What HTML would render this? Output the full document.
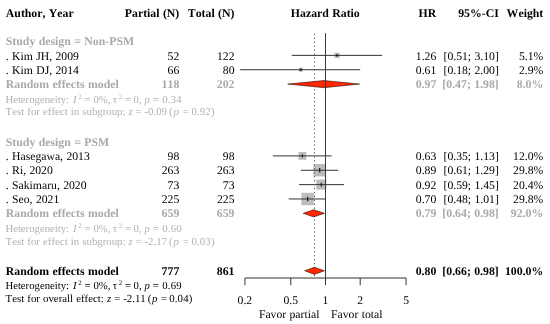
<!DOCTYPE html>
<html><head><meta charset="utf-8"><title>Forest plot</title>
<style>html,body{margin:0;padding:0;background:#fff}svg{display:block}text{word-spacing:0.45px;font-kerning:none;text-rendering:geometricPrecision;font-family:"Liberation Serif","Times New Roman",serif;font-size:11.7px;fill:#000}.b{font-weight:bold;font-size:11.8px}.g{fill:#a9a9a9}.g2{fill:#b2b2b2}.i{font-style:italic}.e{text-anchor:end}.m{text-anchor:middle}</style></head>
<body>
<svg width="550" height="324" viewBox="0 0 550 324">
<rect width="550" height="324" fill="#fff"/>
<g>
<text x="5.8" y="16.7" class="b">Author, Year</text>
<text x="179.3" y="16.7" class="b e">Partial (N)</text>
<text x="234.5" y="16.7" class="b e">Total (N)</text>
<text x="325.3" y="16.7" class="b m">Hazard Ratio</text>
<text x="436.3" y="16.7" class="b e">HR</text>
<text x="498.8" y="16.7" class="b e">95%-CI</text>
<text x="543.3" y="16.7" class="b e">Weight</text>
<text x="5.8" y="45.2" class="b g">Study design = Non-PSM</text>
<text x="5.8" y="59.6">. Kim JH, 2009</text>
<text x="179.3" y="59.6" class="e">52</text>
<text x="234.5" y="59.6" class="e">122</text>
<text x="436.3" y="59.6" class="e">1.26</text>
<text x="498.8" y="59.6" class="e">[0.51; 3.10]</text>
<text x="543.3" y="59.6" class="e">5.1%</text>
<text x="5.8" y="73.9">. Kim DJ, 2014</text>
<text x="179.3" y="73.9" class="e">66</text>
<text x="234.5" y="73.9" class="e">80</text>
<text x="436.3" y="73.9" class="e">0.61</text>
<text x="498.8" y="73.9" class="e">[0.18; 2.00]</text>
<text x="543.3" y="73.9" class="e">2.9%</text>
<text x="5.8" y="88.3" class="b g">Random effects model</text>
<text x="179.3" y="88.3" class="b g e">118</text>
<text x="234.5" y="88.3" class="b g e">202</text>
<text x="436.3" y="88.3" class="b g e">0.97</text>
<text x="498.8" y="88.3" class="b g e">[0.47; 1.98]</text>
<text x="543.3" y="88.3" class="b g e">8.0%</text>
<text y="102.7" style="font-size:10.73px" class="g2"><tspan x="5.4">Heterogeneity: </tspan><tspan x="73.0" class="i">I</tspan><tspan x="78.3" dy="-4.2" style="font-size:6.9px">2 </tspan><tspan x="84.4" dy="4.2">= </tspan><tspan x="93.4">0%, </tspan><tspan x="112.7">τ</tspan><tspan x="118.8" dy="-4.2" style="font-size:6.9px">2 </tspan><tspan x="125.0" dy="4.2">= </tspan><tspan x="133.6">0, </tspan><tspan x="144.5" class="i">p </tspan><tspan x="152.8">= </tspan><tspan x="162.3" style="letter-spacing:0.15px">0.34</tspan></text>
<text y="115.2" style="font-size:10.8px" class="g2"><tspan x="5.6">Test for effect in subgroup: </tspan><tspan x="128.4" class="i">z </tspan><tspan x="135.6">= </tspan><tspan x="144.5">-0.09 </tspan><tspan x="169.1">(</tspan><tspan x="173.6" class="i">p </tspan><tspan x="183.0">= </tspan><tspan x="191.4" style="letter-spacing:0.15px">0.92)</tspan></text>
<text x="5.8" y="145.7" class="b g">Study design = PSM</text>
<text x="5.8" y="160.1">. Hasegawa, 2013</text>
<text x="179.3" y="160.1" class="e">98</text>
<text x="234.5" y="160.1" class="e">98</text>
<text x="436.3" y="160.1" class="e">0.63</text>
<text x="498.8" y="160.1" class="e">[0.35; 1.13]</text>
<text x="543.3" y="160.1" class="e">12.0%</text>
<text x="5.8" y="174.0">. Ri, 2020</text>
<text x="179.3" y="174.0" class="e">263</text>
<text x="234.5" y="174.0" class="e">263</text>
<text x="436.3" y="174.0" class="e">0.89</text>
<text x="498.8" y="174.0" class="e">[0.61; 1.29]</text>
<text x="543.3" y="174.0" class="e">29.8%</text>
<text x="5.8" y="188.8">. Sakimaru, 2020</text>
<text x="179.3" y="188.8" class="e">73</text>
<text x="234.5" y="188.8" class="e">73</text>
<text x="436.3" y="188.8" class="e">0.92</text>
<text x="498.8" y="188.8" class="e">[0.59; 1.45]</text>
<text x="543.3" y="188.8" class="e">20.4%</text>
<text x="5.8" y="203.2">. Seo, 2021</text>
<text x="179.3" y="203.2" class="e">225</text>
<text x="234.5" y="203.2" class="e">225</text>
<text x="436.3" y="203.2" class="e">0.70</text>
<text x="498.8" y="203.2" class="e">[0.48; 1.01]</text>
<text x="543.3" y="203.2" class="e">29.8%</text>
<text x="5.8" y="217.0" class="b g">Random effects model</text>
<text x="179.3" y="217.0" class="b g e">659</text>
<text x="234.5" y="217.0" class="b g e">659</text>
<text x="436.3" y="217.0" class="b g e">0.79</text>
<text x="498.8" y="217.0" class="b g e">[0.64; 0.98]</text>
<text x="543.3" y="217.0" class="b g e">92.0%</text>
<text y="231.9" style="font-size:10.73px" class="g2"><tspan x="5.4">Heterogeneity: </tspan><tspan x="73.0" class="i">I</tspan><tspan x="78.3" dy="-4.2" style="font-size:6.9px">2 </tspan><tspan x="84.4" dy="4.2">= </tspan><tspan x="93.4">0%, </tspan><tspan x="112.7">τ</tspan><tspan x="118.8" dy="-4.2" style="font-size:6.9px">2 </tspan><tspan x="125.0" dy="4.2">= </tspan><tspan x="133.6">0, </tspan><tspan x="144.5" class="i">p </tspan><tspan x="152.8">= </tspan><tspan x="162.3" style="letter-spacing:0.15px">0.60</tspan></text>
<text y="244.5" style="font-size:10.8px" class="g2"><tspan x="5.6">Test for effect in subgroup: </tspan><tspan x="128.4" class="i">z </tspan><tspan x="135.6">= </tspan><tspan x="144.5">-2.17 </tspan><tspan x="169.1">(</tspan><tspan x="173.6" class="i">p </tspan><tspan x="183.0">= </tspan><tspan x="191.4" style="letter-spacing:0.15px">0.03)</tspan></text>
<text x="5.8" y="275.0" class="b">Random effects model</text>
<text x="179.3" y="275.0" class="b e">777</text>
<text x="234.5" y="275.0" class="b e">861</text>
<text x="436.3" y="275.0" class="b e">0.80</text>
<text x="498.8" y="275.0" class="b e">[0.66; 0.98]</text>
<text x="543.3" y="275.0" class="b e">100.0%</text>
<text y="289.3" style="font-size:10.73px" class=""><tspan x="5.4">Heterogeneity: </tspan><tspan x="73.0" class="i">I</tspan><tspan x="78.3" dy="-4.2" style="font-size:6.9px">2 </tspan><tspan x="84.4" dy="4.2">= </tspan><tspan x="93.4">0%, </tspan><tspan x="112.7">τ</tspan><tspan x="118.8" dy="-4.2" style="font-size:6.9px">2 </tspan><tspan x="125.0" dy="4.2">= </tspan><tspan x="133.6">0, </tspan><tspan x="144.5" class="i">p </tspan><tspan x="152.8">= </tspan><tspan x="162.3" style="letter-spacing:0.15px">0.69</tspan></text>
<text y="301.9" style="font-size:10.8px" class=""><tspan x="5.6">Test for overall effect: </tspan><tspan x="107.1" class="i">z </tspan><tspan x="114.3">= </tspan><tspan x="123.2">-2.11 </tspan><tspan x="147.8">(</tspan><tspan x="152.0" class="i">p </tspan><tspan x="160.9">= </tspan><tspan x="169.2" style="letter-spacing:0.15px">0.04)</tspan></text>
</g>
<rect x="334.47" y="52.78" width="5.20" height="5.20" fill="#bcbcbc"/>
<line x1="291.80" y1="55.38" x2="382.13" y2="55.38" stroke="#333" stroke-width="1"/>
<line x1="337.07" y1="54.18" x2="337.07" y2="56.58" stroke="#1c1c1c" stroke-width="1.70"/>
<rect x="298.76" y="67.74" width="4.00" height="4.00" fill="#bcbcbc"/>
<line x1="240.20" y1="69.74" x2="360.19" y2="69.74" stroke="#333" stroke-width="1"/>
<line x1="300.76" y1="68.54" x2="300.76" y2="70.94" stroke="#1c1c1c" stroke-width="1.70"/>
<rect x="298.48" y="152.00" width="7.80" height="7.80" fill="#bcbcbc"/>
<line x1="272.96" y1="155.90" x2="331.62" y2="155.90" stroke="#333" stroke-width="1"/>
<line x1="302.38" y1="154.50" x2="302.38" y2="157.30" stroke="#1c1c1c" stroke-width="1.25"/>
<rect x="313.47" y="164.06" width="12.40" height="12.40" fill="#bcbcbc"/>
<line x1="300.76" y1="170.26" x2="338.24" y2="170.26" stroke="#333" stroke-width="1"/>
<line x1="319.67" y1="168.03" x2="319.67" y2="172.49" stroke="#1c1c1c" stroke-width="1.25"/>
<rect x="316.28" y="179.57" width="10.10" height="10.10" fill="#bcbcbc"/>
<line x1="299.09" y1="184.62" x2="344.10" y2="184.62" stroke="#333" stroke-width="1"/>
<line x1="321.33" y1="182.80" x2="321.33" y2="186.44" stroke="#1c1c1c" stroke-width="1.25"/>
<rect x="301.45" y="192.78" width="12.40" height="12.40" fill="#bcbcbc"/>
<line x1="288.76" y1="198.98" x2="326.00" y2="198.98" stroke="#333" stroke-width="1"/>
<line x1="307.65" y1="196.75" x2="307.65" y2="201.21" stroke="#1c1c1c" stroke-width="1.25"/>
<line x1="314.50" y1="33.80" x2="314.50" y2="278.00" stroke="#606060" stroke-width="1" stroke-dasharray="1.35 2.6"/>
<polygon points="287.71,84.10 323.98,80.50 359.69,84.10 323.98,87.70" fill="#ff2600" stroke="#000" stroke-width="0.5"/>
<polygon points="303.16,213.34 313.70,209.74 324.49,213.34 313.70,216.94" fill="#ff2600" stroke="#000" stroke-width="0.5"/>
<polygon points="304.70,270.78 314.33,267.18 324.49,270.78 314.33,274.38" fill="#ff2600" stroke="#000" stroke-width="0.5"/>
<line x1="325.50" y1="33.20" x2="325.50" y2="278.00" stroke="#3a3a3a" stroke-width="1"/>
<path d="M244.95 278.00H406.05M244.95 278.00v7.2M290.81 278.00v7.2M325.50 278.00v7.2M360.19 278.00v7.2M406.05 278.00v7.2" fill="none" stroke="#333" stroke-width="1"/>
<text x="244.9" y="303.5" class="m">0.2</text>
<text x="290.8" y="303.5" class="m">0.5</text>
<text x="325.5" y="303.5" class="m">1</text>
<text x="360.2" y="303.5" class="m">2</text>
<text x="406.1" y="303.5" class="m">5</text>
<text x="319.4" y="317.9" class="e">Favor partial</text>
<text x="331.0" y="317.9">Favor total</text>
</svg>
</body></html>
